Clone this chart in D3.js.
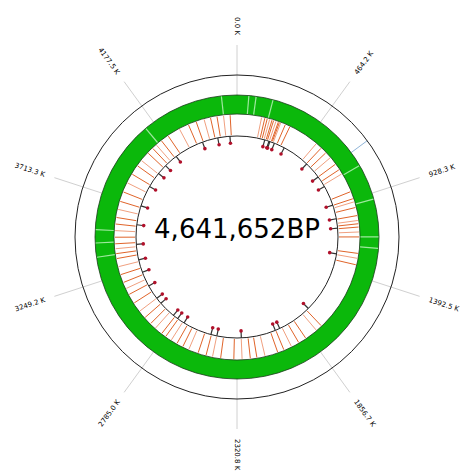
<!DOCTYPE html>
<html><head><meta charset="utf-8">
<script src="https://cdn.jsdelivr.net/npm/d3@7"></script>
<style>body{margin:0;background:#fff}</style>
</head><body><div id="chart"></div>
<script>
const genomeLength = 4641652;
const tickLabels = ["0.0 K","464.2 K","928.3 K","1392.5 K","1856.7 K","2320.8 K","2785.0 K","3249.2 K","3713.3 K","4177.5 K"];
// positions in kb
const lightStripes = [62, 100, 190, 770, 960, 1160, 1220, 3375, 3450, 3520, 4125, 4560];
const orangeLines = [150,170,185,200,215,225,240,255,262,270,300,330,520,560,600,640,690,730,760,880,925,945,980,1030,1060,1080,1100,1130,1160,1260,1290,1330,1760,1800,1880,1930,1980,2030,2070,2150,2200,2240,2290,2340,2420,2470,2510,2560,2620,2660,2700,2740,2780,2810,2860,2900,2950,3000,3060,3120,3160,3200,3250,3300,3350,3380,3410,3440,3480,3520,3560,3600,3650,3700,3760,3820,3880,3940,3980,4040,4080,4110,4150,4200,4280,4340,4390,4440,4480,4520,4560,4600];
const lollipops = [206,238,245,280,360,563,690,774,923,1026,1096,1284,1741,1998,2033,2289,2469,2514,2729,2785,2824,2952,2999,3107,3218,3313,3427,3571,3713,3868,3984,4061,4164,4384,4500,4590];

const W = 474, H = 474, cx = 237, cy = 237;
const ang = d3.scaleLinear().domain([0, genomeLength / 1000]).range([0, 2 * Math.PI]);
const pt = (a, r) => [cx + r * Math.sin(a), cy - r * Math.cos(a)];

const svg = d3.select("#chart").append("svg").attr("width", W).attr("height", H);

// ticks + labels
tickLabels.forEach((t, i) => {
    const a = ang(genomeLength / 1000 * i / 10);
    const p1 = pt(a, 142), p2 = pt(a, 192);
    svg.append("line").attr("x1", p1[0]).attr("y1", p1[1]).attr("x2", p2[0]).attr("y2", p2[1])
        .attr("stroke", "#d0d0d0").attr("stroke-width", 1);
    const deg = a * 180 / Math.PI, p = pt(a, 202);
    const right = deg > 0 && deg <= 180;
    svg.append("text").attr("transform", `translate(${p[0]},${p[1]}) rotate(${right ? deg - 90 : deg + 90})`)
        .attr("text-anchor", right ? "start" : "end").attr("dy", "0.35em")
        .attr("font-family", "DejaVu Sans").attr("font-size", 7).text(t);
});
// blue marker
{ const a = ang(690), p1 = pt(a, 142), p2 = pt(a, 162);
  svg.append("line").attr("x1", p1[0]).attr("y1", p1[1]).attr("x2", p2[0]).attr("y2", p2[1]).attr("stroke", "#8fb4d8"); }

svg.append("circle").attr("cx", cx).attr("cy", cy).attr("r", 162).attr("fill", "none").attr("stroke", "#222");

// green ring
const ring = d3.arc().innerRadius(123).outerRadius(142).startAngle(0).endAngle(2 * Math.PI);
svg.append("path").attr("d", ring()).attr("transform", `translate(${cx},${cy})`)
    .attr("fill", "#0bb80b").attr("stroke", "#1a3a1a").attr("stroke-width", 0.8);
svg.selectAll(".ls").data(lightStripes).join("line")
    .each(function(d) { const a = ang(d), p1 = pt(a, 123.5), p2 = pt(a, 141.5);
        d3.select(this).attr("x1", p1[0]).attr("y1", p1[1]).attr("x2", p2[0]).attr("y2", p2[1]); })
    .attr("stroke", "#9ee89e").attr("stroke-width", 1.2);

// orange lines
svg.selectAll(".ol").data(orangeLines).join("line")
    .each(function(d, i) { const a = ang(d), p1 = pt(a, 102), p2 = pt(a, 122);
        d3.select(this).attr("x1", p1[0]).attr("y1", p1[1]).attr("x2", p2[0]).attr("y2", p2[1]); })
    .attr("stroke", (d, i) => i % 3 === 0 ? "#f0a080" : "#e0642a").attr("stroke-width", 1);

svg.append("circle").attr("cx", cx).attr("cy", cy).attr("r", 101).attr("fill", "none").attr("stroke", "#222");

// lollipops
const lp = svg.selectAll(".lp").data(lollipops).join("g");
lp.append("line").each(function(d) { const a = ang(d), p1 = pt(a, 101), p2 = pt(a, 95);
        d3.select(this).attr("x1", p1[0]).attr("y1", p1[1]).attr("x2", p2[0]).attr("y2", p2[1]); })
    .attr("stroke", "#333").attr("stroke-width", 1.2);
lp.append("circle").each(function(d) { const p = pt(ang(d), 94);
        d3.select(this).attr("cx", p[0]).attr("cy", p[1]); })
    .attr("r", 1.8).attr("fill", "#b0102a");

svg.append("text").attr("x", cx).attr("y", 238).attr("text-anchor", "middle")
    .attr("font-family", "DejaVu Sans").attr("font-size", 26).text("4,641,652BP");
</script></body></html>
